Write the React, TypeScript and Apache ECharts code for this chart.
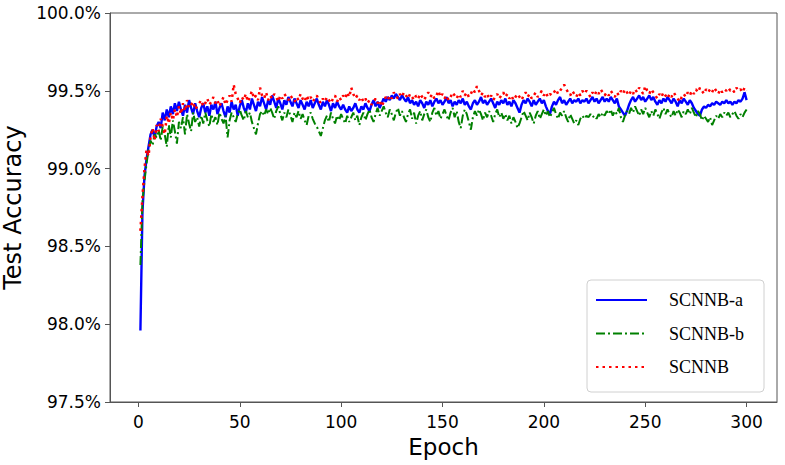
import React, { useEffect, useRef } from "react";
import * as echarts from "echarts";

const seriesNames = ["SCNNB-a", "SCNNB-b", "SCNNB"];
const xTicks = [0, 50, 100, 150, 200, 250, 300];
const yTicks = [97.5, 98.0, 98.5, 99.0, 99.5, 100.0];

const scnnbA = [
  97.96, 98.72, 98.95, 99.06, 99.14, 99.22, 99.25, 99.20, 99.27, 99.30,
  99.26, 99.36, 99.31, 99.38, 99.33, 99.40, 99.35, 99.42, 99.37, 99.43,
  99.38, 99.34, 99.41, 99.36, 99.44, 99.39, 99.35, 99.42, 99.37, 99.33,
  99.39, 99.42, 99.36, 99.40, 99.34, 99.41, 99.38, 99.43, 99.35, 99.39,
  99.42, 99.37, 99.33, 99.40, 99.36, 99.43, 99.38, 99.41, 99.34, 99.40,
  99.44, 99.39, 99.36, 99.42, 99.38, 99.45, 99.41, 99.37, 99.43, 99.40,
  99.46, 99.42, 99.38, 99.44, 99.41, 99.47, 99.43, 99.39, 99.45, 99.42,
  99.38, 99.44, 99.41, 99.46, 99.43, 99.40, 99.45, 99.42, 99.39, 99.44,
  99.41, 99.38, 99.43, 99.40, 99.44, 99.39, 99.42, 99.45, 99.41, 99.38,
  99.43, 99.40, 99.44, 99.41, 99.37, 99.42, 99.39, 99.43, 99.40, 99.38,
  99.41, 99.38, 99.36, 99.40, 99.37, 99.39, 99.42, 99.38, 99.36, 99.40,
  99.38, 99.42, 99.39, 99.37, 99.41, 99.44, 99.40, 99.43, 99.39, 99.42,
  99.45, 99.43, 99.46, 99.44, 99.47, 99.45, 99.48, 99.46, 99.44, 99.47,
  99.45, 99.43, 99.46, 99.42, 99.44, 99.41, 99.43, 99.40, 99.44, 99.42,
  99.39, 99.43, 99.41, 99.44, 99.40, 99.43, 99.45, 99.42, 99.44, 99.41,
  99.43, 99.46, 99.42, 99.44, 99.40, 99.43, 99.41, 99.44, 99.42, 99.45,
  99.41, 99.43, 99.40, 99.38, 99.42, 99.44, 99.41, 99.43, 99.46, 99.42,
  99.44, 99.41, 99.43, 99.45, 99.42, 99.39, 99.43, 99.41, 99.44, 99.42,
  99.45, 99.41, 99.43, 99.40, 99.44, 99.42, 99.39, 99.36, 99.41, 99.44,
  99.42, 99.45, 99.43, 99.40, 99.44, 99.41, 99.43, 99.45, 99.42, 99.44,
  99.40, 99.37, 99.35, 99.40, 99.43, 99.41, 99.44, 99.46, 99.42, 99.44,
  99.41, 99.43, 99.45, 99.42, 99.44, 99.43, 99.45, 99.42, 99.44, 99.43,
  99.45, 99.42, 99.44, 99.46, 99.43, 99.45, 99.42, 99.44, 99.46, 99.43,
  99.45, 99.43, 99.46, 99.44, 99.42, 99.45, 99.40, 99.38, 99.36, 99.34,
  99.37, 99.41, 99.44, 99.46, 99.43, 99.45, 99.47, 99.44, 99.46, 99.43,
  99.45, 99.47, 99.44, 99.46, 99.43, 99.41, 99.44, 99.42, 99.45, 99.43,
  99.46, 99.44, 99.42, 99.45, 99.43, 99.40, 99.44, 99.42, 99.45, 99.43,
  99.41, 99.44, 99.42, 99.39, 99.37, 99.35, 99.34, 99.38, 99.40, 99.39,
  99.41, 99.40, 99.42, 99.41, 99.43, 99.42, 99.41, 99.43, 99.42, 99.44,
  99.42, 99.43, 99.41, 99.43, 99.42, 99.44, 99.43, 99.45, 99.49, 99.44,
];

const scnnbB = [
  98.38, 98.78, 98.92, 99.03, 99.12, 99.18, 99.15, 99.22, 99.20, 99.25,
  99.18, 99.27, 99.22, 99.14, 99.28, 99.20, 99.31, 99.24, 99.16, 99.30,
  99.26, 99.33, 99.22, 99.35, 99.29, 99.24, 99.36, 99.30, 99.33, 99.27,
  99.34, 99.29, 99.36, 99.31, 99.27, 99.35, 99.30, 99.33, 99.28, 99.36,
  99.32, 99.29, 99.34, 99.20, 99.31, 99.36, 99.33, 99.30, 99.35, 99.38,
  99.34, 99.31, 99.37, 99.33, 99.36, 99.30, 99.26, 99.22, 99.29, 99.35,
  99.37, 99.34, 99.38, 99.35, 99.39, 99.36, 99.32, 99.37, 99.40, 99.35,
  99.31, 99.36, 99.33, 99.38, 99.34, 99.30, 99.36, 99.33, 99.37, 99.32,
  99.35, 99.31, 99.28, 99.34, 99.36, 99.32, 99.29, 99.27, 99.24, 99.21,
  99.26, 99.31, 99.34, 99.30, 99.36, 99.32, 99.29, 99.34, 99.31, 99.35,
  99.32, 99.29, 99.34, 99.30, 99.33, 99.36, 99.31, 99.34, 99.28, 99.33,
  99.36, 99.31, 99.35, 99.38, 99.33, 99.30, 99.35, 99.39, 99.34, 99.37,
  99.40, 99.36, 99.33, 99.38, 99.35, 99.31, 99.36, 99.39, 99.34, 99.37,
  99.33, 99.30, 99.35, 99.38, 99.32, 99.36, 99.29, 99.34, 99.37, 99.31,
  99.35, 99.38, 99.33, 99.30, 99.36, 99.39, 99.34, 99.37, 99.32, 99.35,
  99.38, 99.34, 99.31, 99.36, 99.39, 99.33, 99.37, 99.30, 99.26, 99.34,
  99.38, 99.35, 99.30, 99.25, 99.33, 99.37, 99.34, 99.38, 99.35, 99.31,
  99.36, 99.33, 99.37, 99.34, 99.30, 99.35, 99.38, 99.33, 99.36, 99.32,
  99.35, 99.31, 99.34, 99.29, 99.33, 99.30, 99.26, 99.29, 99.33, 99.37,
  99.34, 99.31, 99.36, 99.33, 99.29, 99.34, 99.37, 99.32, 99.35, 99.38,
  99.34, 99.37, 99.33, 99.36, 99.39, 99.35, 99.32, 99.36, 99.34, 99.37,
  99.33, 99.30, 99.35, 99.32, 99.29, 99.31, 99.28, 99.32, 99.34, 99.32,
  99.34, 99.33, 99.35, 99.33, 99.34, 99.32, 99.35, 99.33, 99.36, 99.34,
  99.37, 99.35, 99.38, 99.34, 99.37, 99.35, 99.39, 99.33, 99.30, 99.34,
  99.37, 99.35, 99.39, 99.36, 99.40, 99.37, 99.34, 99.38, 99.35, 99.39,
  99.36, 99.33, 99.37, 99.34, 99.38, 99.35, 99.32, 99.36, 99.39, 99.35,
  99.38, 99.35, 99.33, 99.37, 99.34, 99.38, 99.36, 99.33, 99.37, 99.35,
  99.38, 99.35, 99.39, 99.36, 99.33, 99.37, 99.35, 99.31, 99.34, 99.32,
  99.30, 99.33, 99.28, 99.31, 99.34, 99.32, 99.35, 99.33, 99.36, 99.34,
  99.36, 99.33, 99.35, 99.37, 99.34, 99.32, 99.35, 99.33, 99.36, 99.38,
];

const scnnb = [
  98.60, 98.82, 99.00, 99.12, 99.08, 99.20, 99.26, 99.18, 99.28, 99.24,
  99.32, 99.27, 99.22, 99.34, 99.29, 99.36, 99.31, 99.38, 99.33, 99.40,
  99.35, 99.42, 99.37, 99.44, 99.39, 99.41, 99.43, 99.38, 99.40, 99.42,
  99.44, 99.40, 99.42, 99.45, 99.41, 99.43, 99.46, 99.42, 99.44, 99.40,
  99.43, 99.46, 99.41, 99.44, 99.47, 99.43, 99.54, 99.48, 99.45, 99.42,
  99.46, 99.44, 99.48, 99.43, 99.46, 99.50, 99.45, 99.47, 99.44, 99.52,
  99.47, 99.45, 99.49, 99.44, 99.47, 99.45, 99.48, 99.46, 99.43, 99.47,
  99.45, 99.48, 99.46, 99.44, 99.47, 99.45, 99.43, 99.46, 99.44, 99.48,
  99.45, 99.43, 99.47, 99.44, 99.46, 99.43, 99.45, 99.47, 99.44, 99.42,
  99.45, 99.43, 99.46, 99.44, 99.42, 99.45, 99.47, 99.43, 99.46, 99.44,
  99.47, 99.45, 99.49, 99.46, 99.52, 99.48, 99.45, 99.47, 99.44, 99.46,
  99.43, 99.45, 99.42, 99.44, 99.41, 99.43, 99.45, 99.42, 99.44, 99.40,
  99.43, 99.46, 99.44, 99.47, 99.45, 99.49, 99.47, 99.45, 99.48, 99.46,
  99.49, 99.47, 99.45, 99.48, 99.46, 99.44, 99.47, 99.45, 99.48, 99.46,
  99.44, 99.47, 99.49, 99.46, 99.48, 99.45, 99.47, 99.50, 99.46, 99.48,
  99.45, 99.47, 99.44, 99.46, 99.49, 99.47, 99.45, 99.48, 99.46, 99.50,
  99.47, 99.49, 99.46, 99.48, 99.51, 99.49, 99.53, 99.50, 99.47, 99.49,
  99.46, 99.48, 99.45, 99.47, 99.44, 99.46, 99.48, 99.45, 99.47, 99.49,
  99.46, 99.48, 99.45, 99.47, 99.44, 99.46, 99.48, 99.46, 99.44, 99.47,
  99.49, 99.46, 99.48, 99.45, 99.47, 99.49, 99.46, 99.48, 99.50, 99.47,
  99.49, 99.46, 99.48, 99.47, 99.49, 99.51, 99.48, 99.50, 99.52, 99.54,
  99.51, 99.49, 99.47, 99.50, 99.48, 99.46, 99.49, 99.47, 99.50, 99.48,
  99.50, 99.48, 99.46, 99.49, 99.47, 99.50, 99.48, 99.51, 99.49, 99.47,
  99.49, 99.47, 99.50, 99.48, 99.46, 99.49, 99.47, 99.50, 99.48, 99.51,
  99.49, 99.47, 99.50, 99.48, 99.51, 99.49, 99.52, 99.50, 99.48, 99.53,
  99.50, 99.48, 99.51, 99.49, 99.47, 99.45, 99.48, 99.46, 99.49, 99.47,
  99.45, 99.48, 99.46, 99.49, 99.47, 99.45, 99.43, 99.46, 99.48, 99.46,
  99.49, 99.47, 99.50, 99.48, 99.51, 99.49, 99.52, 99.50, 99.48, 99.51,
  99.49, 99.51, 99.49, 99.52, 99.50, 99.48, 99.51, 99.49, 99.51, 99.50,
  99.52, 99.50, 99.51, 99.49, 99.52, 99.50, 99.51, 99.49, 99.52, 99.50,
];

const epochs = scnnbA.map((_, i) => i + 1);

const SANS = "DejaVu Sans";
const SERIF = "Liberation Serif";
const AXIS_COLOR = "#555555";

export default function App() {
  const ref = useRef<HTMLDivElement>(null);

  useEffect(() => {
    if (!ref.current) return;
    const chart = echarts.init(ref.current, undefined, { renderer: "svg" });
    const mk = (vals: number[]) => epochs.map((e, i) => [e, vals[i]]);
    const option = {
      animation: false,
      backgroundColor: "#ffffff",
      grid: {
        left: 110,
        right: 8,
        top: 13,
        bottom: 63,
        show: true,
        containLabel: false,
        outerBoundsMode: "none",
        borderColor: AXIS_COLOR,
        borderWidth: 1,
        backgroundColor: "transparent",
      },
      legend: {
        orient: "vertical",
        left: 587,
        top: 280,
        data: seriesNames,
        itemWidth: 51,
        itemHeight: 14,
        itemGap: 15.5,
        padding: [11, 20, 16, 8],
        backgroundColor: "#ffffff",
        borderColor: "#d0d0d0",
        borderWidth: 1,
        borderRadius: 4,
        itemStyle: { opacity: 0, borderWidth: 0 },
        textStyle: {
          fontFamily: SERIF,
          fontSize: 18,
          color: "#000",
          padding: [0, 0, 0, 17],
        },
      },
      xAxis: {
        type: "value",
        min: -14,
        max: 315,
        name: "Epoch",
        nameLocation: "middle",
        nameGap: 33,
        nameTextStyle: { fontFamily: SANS, fontSize: 23, color: "#000" },
        axisLine: { show: true, onZero: false, lineStyle: { color: AXIS_COLOR } },
        axisTick: { show: true, length: 5, customValues: xTicks, lineStyle: { color: AXIS_COLOR } },
        axisLabel: { customValues: xTicks, fontFamily: SANS, fontSize: 17, color: "#000", margin: 11 },
        splitLine: { show: false },
      },
      yAxis: {
        type: "value",
        min: 97.5,
        max: 100,
        interval: 0.5,
        name: "Test Accuracy",
        nameLocation: "middle",
        nameGap: 80,
        nameTextStyle: { fontFamily: SANS, fontSize: 24, color: "#000" },
        axisLine: { show: true, onZero: false, lineStyle: { color: AXIS_COLOR } },
        axisTick: { show: true, length: 5, customValues: yTicks, lineStyle: { color: AXIS_COLOR } },
        axisLabel: {
          customValues: yTicks,
          fontFamily: SANS,
          fontSize: 17,
          color: "#000",
          margin: 9,
          formatter: (v: number) => v.toFixed(1) + "%",
        },
        splitLine: { show: false },
      },
      series: [
        {
          name: seriesNames[0],
          type: "line",
          data: mk(scnnbA),
          symbol: "none",
          showSymbol: false,
          itemStyle: { color: "#0000ff" },
          lineStyle: { color: "#0000ff", width: 2.4 },
          z: 2,
        },
        {
          name: seriesNames[1],
          type: "line",
          data: mk(scnnbB),
          symbol: "none",
          showSymbol: false,
          itemStyle: { color: "#008000" },
          lineStyle: { color: "#008000", width: 2, type: [9, 3, 2, 3] },
          z: 3,
        },
        {
          name: seriesNames[2],
          type: "line",
          data: mk(scnnb),
          symbol: "none",
          showSymbol: false,
          itemStyle: { color: "#ff0000" },
          lineStyle: { color: "#ff0000", width: 2.5, type: [2.5, 4] },
          z: 4,
        },
      ],
    };
    chart.setOption(option as any);
    return () => chart.dispose();
  }, []);

  return (
    <div
      ref={ref}
      style={{ position: "absolute", left: 0, top: 0, width: 785, height: 465 }}
    />
  );
}
